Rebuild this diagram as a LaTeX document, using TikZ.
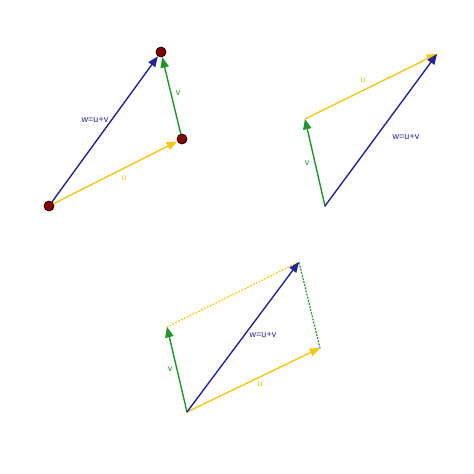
\documentclass[tikz,border=0pt]{standalone}
\usepackage{fontspec}
\setmainfont{Liberation Sans}
\usepackage{xcolor}
\usetikzlibrary{arrows}
\definecolor{vecw}{RGB}{35,35,155}
\definecolor{vecu}{RGB}{245,200,20}
\definecolor{vecv}{RGB}{30,150,40}
\definecolor{ptred}{RGB}{130,0,0}
\tikzset{
  vw/.style={->,vecw,line width=1.4pt},
  vu/.style={->,vecu,line width=1.4pt},
  vv/.style={->,vecv,line width=1.4pt},
  pt/.style={circle,fill=ptred,draw=black!70!ptred,line width=0.8pt,inner sep=0pt,minimum size=10pt},
  lbl/.style={font=\fontsize{9}{10}\selectfont,inner sep=0pt}
}
\begin{document}
\begin{tikzpicture}[line cap=round,line join=round,>=triangle 45,x=1pt,y=-1pt]
\useasboundingbox (0,0) rectangle (474,474);
% triangle with points
\node[pt] (a1) at (49,206) {};
\node[pt] (b1) at (182,139) {};
\node[pt] (c1) at (161,52) {};
\draw[vu] (a1) -- (b1);
\draw[vv] (b1) -- (c1);
\draw[vw] (a1) -- (c1);
\node[lbl,text=vecw] (w1) at (95,120) {w=u+v};
\node[lbl,text=vecv] (v1) at (178,93) {v};
\node[lbl,text=vecu] (u1) at (124,178) {u};
% v then u
\coordinate (o2) at (325,206);
\coordinate (p2) at (305,119);
\coordinate (q2) at (437,54);
\draw[vv] (o2) -- (p2);
\draw[vu] (p2) -- (q2);
\draw[vw] (o2) -- (q2);
\node[lbl,text=vecu] (u2) at (363,80) {u};
\node[lbl,text=vecv] (v2) at (307,163) {v};
\node[lbl,text=vecw] (w2) at (406,137) {w=u+v};
% parallelogram
\coordinate (o3) at (187,412);
\coordinate (p3) at (167,327);
\coordinate (r3) at (320,348);
\coordinate (q3) at (299,262);
\draw[vecu,dotted,line width=1.2pt] (p3) -- (q3);
\draw[vecv,dotted,line width=1.2pt] (r3) -- (q3);
\draw[vv] (o3) -- (p3);
\draw[vu] (o3) -- (r3);
\draw[vw] (o3) -- (q3);
\node[lbl,text=vecw] (w3) at (263,335) {w=u+v};
\node[lbl,text=vecv] (v3) at (170,369) {v};
\node[lbl,text=vecu] (u3) at (260,384) {u};
\end{tikzpicture}
\end{document}
